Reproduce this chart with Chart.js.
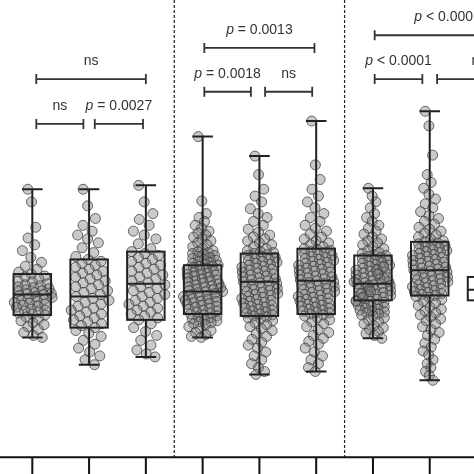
<!DOCTYPE html>
<html>
<head>
<meta charset="utf-8">
<script src="https://cdn.jsdelivr.net/npm/chart.js@4"></script>
<style>
  html, body { margin: 0; padding: 0; background: #fff; }
  #wrap { width: 474px; height: 474px; }
</style>
</head>
<body>
<div id="wrap"><canvas id="boxChart"></canvas></div>
<script>
// groups 1..9 (group 9 is cut off at the right edge)
const groups = [1, 2, 3, 4, 5, 6, 7, 8, 9];

// box stats per group: [min, q1, median, q3, max]
const boxStats = [
    [123, 146, 167, 188, 275],
    [95, 133, 165, 203, 275],
    [103, 141, 178, 211, 279],
    [123, 147, 170, 197, 329],
    [85, 145, 180, 209, 309],
    [88, 147, 181, 214, 345],
    [122, 161, 178, 207, 276],
    [79, 166, 192, 221, 355],
    [120, 161, 172, 185, 250]
];

const g1 = [275,262,236,225,218,212,205,200,196,193,190,188,186,185,183,181,180,178,177,176,175,174,173,172,171,170,169,168,168,167,166,165,164,163,162,161,160,159,158,157,156,155,154,152,151,150,149,148,147,146,144,142,140,138,136,134,131,128,125,123];
const g2 = [275,258,245,238,232,228,224,220,215,210,206,203,201,199,197,195,193,191,189,187,185,183,181,179,177,175,173,171,169,167,165,163,161,159,157,155,153,151,149,147,145,143,141,139,137,135,133,130,127,124,120,116,112,108,104,100,95];
const g3 = [279,262,250,244,238,232,228,224,219,214,211,209,207,205,203,201,199,197,195,193,191,189,187,185,183,181,179,177,175,173,171,169,167,165,163,161,159,157,155,153,151,149,147,145,143,141,137,133,129,125,120,115,110,106,103];
const g4 = [329,263,250,246,242,238,235,232,230,228,226,224,222,220,218,216,214,212,211,210,209,208,207,206,205,204,203,202,201,200,199,198,197,196,196,195,194,193,192,191,190,189,188,188,187,186,185,184,183,182,181,181,180,179,178,177,176,175,175,174,173,172,171,170,170,169,168,167,166,165,165,164,163,162,161,160,160,159,158,157,156,155,154,153,152,151,150,149,148,147,146,145,144,143,142,141,140,139,138,137,136,134,132,130,128,126,124,123];
const g5 = [309,290,275,268,262,255,250,246,242,238,234,231,228,226,224,222,220,218,216,214,212,211,210,209,208,207,206,205,204,203,202,201,200,199,198,197,196,195,194,193,192,191,190,189,188,187,186,185,184,183,182,181,180,179,178,177,176,175,174,173,172,171,170,169,168,167,166,165,164,163,162,161,160,159,158,157,156,155,154,153,152,151,150,149,148,147,146,145,144,143,142,140,138,136,134,132,130,127,124,121,118,115,112,108,104,100,96,92,88,85];
const g6 = [345,300,285,275,268,262,256,250,246,242,238,235,232,229,226,224,222,220,218,216,214,213,212,211,210,209,208,207,206,205,204,203,202,201,200,199,198,197,196,195,194,193,192,191,190,189,188,187,186,185,184,183,182,181,180,179,178,177,176,175,174,173,172,171,170,169,168,167,166,165,164,163,162,161,160,159,158,157,156,155,154,153,152,151,150,149,148,147,146,145,143,141,139,137,134,131,128,125,122,119,116,112,108,104,100,96,92,88];
const g7 = [276,268,262,256,250,246,242,238,235,232,229,226,224,222,220,218,216,214,212,210,209,208,207,206,205,204,203,202,201,200,199,198,197,196,195,194,193,192,191,190,189,188,187,186,185,184,183,182,181,180,179,178,178,177,176,175,174,173,172,171,170,169,168,167,166,165,164,163,162,161,160,159,158,157,156,155,154,153,152,151,150,149,148,147,146,145,143,141,139,137,135,133,131,129,127,125,122,176,184,168,192,160,172,196,164,188,180,170];
const g8 = [355,340,310,290,282,276,270,265,260,256,252,248,245,242,239,236,234,232,230,228,226,224,222,221,220,219,218,217,216,215,214,213,212,211,210,209,208,207,206,205,204,203,202,201,200,199,198,197,196,195,194,193,192,191,190,189,188,187,186,185,184,183,182,181,180,179,178,177,176,175,174,173,172,171,170,169,168,167,166,165,164,162,160,158,156,154,152,150,148,146,144,142,140,137,134,131,128,125,121,117,113,109,105,100,96,92,88,84,79];
const pointValues = [g1, g2, g3, g4, g5, g6, g7, g8, []];

// significance brackets: [from, to, height, label prefix, label rest]
const brackets = [
    [1.07, 3.0, 388, 'ns', ''],
    [1.07, 1.9, 342, 'ns', ''],
    [2.1, 2.95, 342, 'p', ' = 0.0027'],
    [4.03, 5.97, 420, 'p', ' = 0.0013'],
    [4.03, 4.85, 375, 'p', ' = 0.0018'],
    [5.1, 5.93, 375, 'ns', ''],
    [7.03, 9.6, 433, 'p', ' < 0.0001'],
    [7.03, 7.87, 388, 'p', ' < 0.0001'],
    [8.13, 9.6, 388, 'ns', '']
];
const dividers = [3.5, 6.5];

// beeswarm-like spread: narrower in the tails
const scatterData = [];
pointValues.forEach((vals, gi) => {
    const s = boxStats[gi];
    const iqr = s[3] - s[1];
    vals.forEach((v, i) => {
        const d = Math.abs(v - s[2]) / iqr;
        const width = 0.36 * Math.max(0.22, 1 - d * 0.45);
        const f = (((i * 7919) % 101) / 100) * 2 - 1;
        scatterData.push({ x: groups[gi] + f * width, y: v });
    });
});

const boxPlugin = {
    id: 'boxes',
    afterDatasetsDraw(chart) {
        const ctx = chart.ctx;
        const xs = chart.scales.x, ys = chart.scales.y;
        ctx.save();
        ctx.strokeStyle = '#222';
        ctx.lineWidth = 2;
        boxStats.forEach((s, i) => {
            const cx = xs.getPixelForValue(groups[i]);
            const half = xs.getPixelForValue(groups[i] + 0.33) - cx;
            const cap = half * 0.55;
            const [mn, q1, md, q3, mx] = s.map(v => ys.getPixelForValue(v));
            ctx.strokeRect(cx - half, q3, half * 2, q1 - q3);
            ctx.beginPath();
            ctx.moveTo(cx - half, md); ctx.lineTo(cx + half, md);
            ctx.moveTo(cx, q3); ctx.lineTo(cx, mx);
            ctx.moveTo(cx, q1); ctx.lineTo(cx, mn);
            ctx.moveTo(cx - cap, mx); ctx.lineTo(cx + cap, mx);
            ctx.moveTo(cx - cap, mn); ctx.lineTo(cx + cap, mn);
            ctx.stroke();
        });

        // dashed dividers
        ctx.setLineDash([3, 2]);
        ctx.lineWidth = 1.2;
        dividers.forEach(d => {
            const x = xs.getPixelForValue(d);
            ctx.beginPath();
            ctx.moveTo(x, 0); ctx.lineTo(x, ys.getPixelForValue(0));
            ctx.stroke();
        });
        ctx.setLineDash([]);

        // x axis with downward ticks
        const y0 = ys.getPixelForValue(0);
        ctx.lineWidth = 2;
        ctx.strokeStyle = '#111';
        ctx.beginPath();
        ctx.moveTo(0, y0); ctx.lineTo(chart.width, y0);
        groups.forEach(g => {
            const x = xs.getPixelForValue(g);
            ctx.moveTo(x, y0); ctx.lineTo(x, chart.height);
        });
        ctx.stroke();

        // brackets
        ctx.strokeStyle = '#333';
        ctx.fillStyle = '#333';
        brackets.forEach(b => {
            const xa = xs.getPixelForValue(b[0]), xb = xs.getPixelForValue(b[1]);
            const y = ys.getPixelForValue(b[2]);
            ctx.lineWidth = 1.8;
            ctx.beginPath();
            ctx.moveTo(xa, y); ctx.lineTo(xb, y);
            ctx.moveTo(xa, y - 5); ctx.lineTo(xa, y + 5);
            ctx.moveTo(xb, y - 5); ctx.lineTo(xb, y + 5);
            ctx.stroke();
            const mid = (xa + xb) / 2;
            const pre = b[3], rest = b[4];
            const font = '14px "Liberation Sans", Arial';
            const preFont = rest ? 'italic ' + font : font;
            ctx.font = preFont;
            const w1 = ctx.measureText(pre).width;
            ctx.font = font;
            const w2 = ctx.measureText(rest).width;
            const x0 = mid - (w1 + w2) / 2;
            const ty = y - 18;
            ctx.textBaseline = 'middle';
            ctx.textAlign = 'left';
            ctx.font = preFont;
            ctx.fillText(pre, x0, ty);
            ctx.font = font;
            ctx.fillText(rest, x0 + w1, ty);
        });
        ctx.restore();
    }
};

new Chart(document.getElementById('boxChart'), {
    type: 'scatter',
    data: {
        datasets: [{
            data: scatterData,
            pointRadius: 5,
            pointBackgroundColor: 'rgba(120,120,120,0.4)',
            pointBorderColor: 'rgba(60,60,60,0.75)',
            pointBorderWidth: 1
        }]
    },
    options: {
        responsive: true,
        maintainAspectRatio: false,
        animation: false,
        layout: { padding: 0 },
        plugins: { legend: { display: false }, tooltip: { enabled: false } },
        scales: {
            x: { type: 'linear', min: 0.5365, max: 8.674, display: false },
            y: { type: 'linear', min: -11, max: 463, display: false }
        }
    },
    plugins: [boxPlugin]
});
</script>
</body>
</html>
